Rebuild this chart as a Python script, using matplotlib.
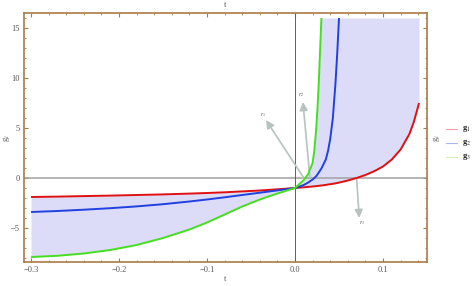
import numpy as np
import matplotlib
matplotlib.use("Agg")
import matplotlib.pyplot as plt
from matplotlib.ticker import MultipleLocator

plt.rcParams["font.family"] = ["Liberation Serif", "DejaVu Serif"]
plt.rcParams["mathtext.fontset"] = "stix"

# shared t grid, curve values (nan = above the plot range)
t = [-0.30, -0.27, -0.24, -0.21, -0.18, -0.15, -0.12, -0.10, -0.08, -0.06,
     -0.04, -0.02, 0.00, 0.01, 0.015, 0.02, 0.022, 0.024, 0.0255, 0.027,
     0.030, 0.035, 0.0375, 0.040, 0.043, 0.046, 0.048, 0.050, 0.06, 0.07,
     0.08, 0.09, 0.10, 0.11, 0.12, 0.13, 0.135, 0.141]
g1 = [-1.90, -1.86, -1.81, -1.76, -1.70, -1.64, -1.56, -1.50, -1.43, -1.34,
      -1.25, -1.13, -1.00, -0.93, -0.89, -0.85, -0.83, -0.81, -0.80, -0.78,
      -0.75, -0.69, -0.65, -0.62, -0.58, -0.53, -0.50, -0.46, -0.25, 0.00,
      0.30, 0.68, 1.15, 1.85, 2.85, 4.40, 5.60, 7.50]
g2 = [-3.40, -3.30, -3.17, -3.02, -2.84, -2.62, -2.35, -2.15, -1.93, -1.70,
      -1.47, -1.24, -1.00, -0.70, -0.45, -0.15, 0.00, 0.18, 0.35, 0.55,
      0.95, 1.85, 2.70, 3.90, 6.00, 9.50, 12.5, 16.0, np.nan, np.nan,
      np.nan, np.nan, np.nan, np.nan, np.nan, np.nan, np.nan, np.nan]
g3 = [-7.90, -7.78, -7.55, -7.20, -6.70, -6.00, -5.15, -4.45, -3.65, -2.85,
      -2.15, -1.55, -1.00, -0.20, 0.40, 1.50, 2.80, 4.80, 6.90, 9.50,
      16.0, np.nan, np.nan, np.nan, np.nan, np.nan, np.nan, np.nan, np.nan, np.nan,
      np.nan, np.nan, np.nan, np.nan, np.nan, np.nan, np.nan, np.nan]
y_cap = 16.0

names = ["g$_1$", "g$_2$", "g$_3$"]
colors = ["#e01010", "#2040e0", "#44e020"]
legend_colors = ["#f2a0a0", "#a8b4f0", "#d8f0b0"]

# arrows: (start t, start g) -> (end t, end g), label
arrow_start = [(0.010, 0.0), (0.017, 0.0), (0.070, 0.0)]
arrow_end = [(-0.033, 5.8), (0.009, 7.6), (0.073, -4.0)]
arrow_text = ["$r_1$", "$r_2$", "$r_3$"]
arrow_text_pos = [(-0.036, 6.3), (0.007, 8.3), (0.076, -4.5)]

FRAME = "#a97c46"
ARROW = "#b6c3c0"
TEXT = "#555555"

fig = plt.figure(figsize=(4.74, 2.86), dpi=100)
ax = fig.add_axes([24 / 474, 1 - 262 / 286, (427 - 24) / 474, (262 - 13) / 286])

tt = np.array(t)
data = np.array([g1, g2, g3])
upper = np.where(np.isnan(data).any(axis=0), y_cap, np.nanmax(data, axis=0))
lower = np.nanmin(data, axis=0)
ax.fill_between(tt, lower, upper, color="#dcdcf8", lw=0, zorder=1)

ax.axhline(0, color="#a0a0a0", lw=1.1, zorder=2)
ax.axvline(0, color="#606060", lw=0.7, zorder=2)

for g, c in zip(data, colors):
    ax.plot(tt, g, color=c, lw=1.4, zorder=4, solid_capstyle="butt")

for s, e, txt, p in zip(arrow_start, arrow_end, arrow_text, arrow_text_pos):
    ax.annotate("", xy=e, xytext=s,
                arrowprops=dict(arrowstyle="-|>", color=ARROW, lw=1.2,
                                mutation_scale=12, shrinkA=0, shrinkB=0),
                zorder=3)
    ax.text(p[0], p[1], txt, fontsize=4, color="#404040", ha="center", va="center")

ax.set_xlim(-0.308, 0.150)
ax.set_ylim(-8.4, 16.5)

ax.xaxis.set_minor_locator(MultipleLocator(0.02))
ax.yaxis.set_minor_locator(MultipleLocator(1))
ax.set_xticks([-0.3, -0.2, -0.1, 0.0, 0.1])
ax.set_xticklabels(["\u22120.3", "\u22120.2", "\u22120.1", "0.0", "0.1"])
ax.set_yticks([-5, 0, 5, 10, 15])
ax.set_yticklabels(["\u22125", "0", "5", "10", "15"])

ax.tick_params(which="both", direction="in", top=True, right=True,
               color=FRAME, labelsize=6, labelcolor=TEXT, pad=3)
ax.tick_params(which="major", length=3, width=0.8)
ax.tick_params(which="minor", length=1.6, width=0.6)
for sp in ax.spines.values():
    sp.set_color(FRAME)
    sp.set_linewidth(1.2)

# axis labels, placed as in the reference (bottom/top "t", left/right "g_i")
xc = (24 + 427) / 2 / 474
fig.text(xc, 1 - 279 / 286, "t", fontsize=6, color=TEXT, ha="center", va="center")
fig.text(xc, 1 - 5 / 286, "t", fontsize=6, color=TEXT, ha="center", va="center")
fig.text(6 / 474, 1 - 138 / 286, "g$_i$", fontsize=6, color=TEXT,
         ha="center", va="center", rotation=90)
fig.text(436 / 474, 1 - 138 / 286, "g$_i$", fontsize=6, color=TEXT,
         ha="center", va="center", rotation=90)

for i, (n, lc) in enumerate(zip(names, legend_colors)):
    y = 1 - (129 + 14 * i) / 286
    fig.add_artist(plt.Line2D([446 / 474, 457 / 474], [y, y], color=lc, lw=0.8))
    fig.text(462 / 474, y, n, fontsize=6, color="#222222", weight="bold",
             ha="left", va="center")

fig.savefig("out.png", dpi=100)
